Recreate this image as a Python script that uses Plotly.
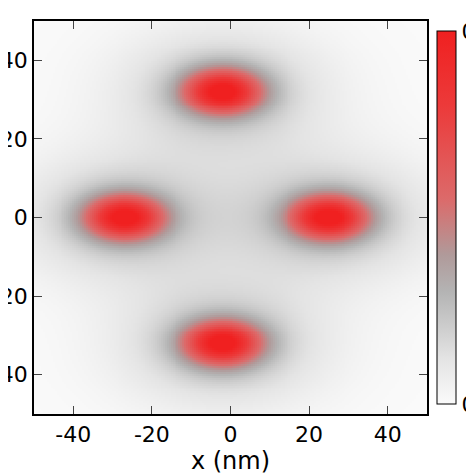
import numpy as np
import plotly.graph_objects as go

# blob parameters (nm)
centers_x = [-2, -27, 25, -2]
centers_y = [32, 0, 0, -32]
core_amp = [1.0, 1.0, 1.0, 1.0]
halo_amp = [0.30, 0.30, 0.30, 0.30]
core_sigma = (7.0, 4.0)
halo_sigma = (18.0, 11.0)
x_ticks = [-40, -20, 0, 20, 40]
x_labels = ['-40', '-20', '0', '20', '40']
y_ticks = [-40, -20, 0, 20, 40]
y_labels = ['-40', '-20', '0', '20', '40']

xs = np.arange(-50, 50.5, 0.5)
ys = np.arange(-50, 50.5, 0.5)
X, Y = np.meshgrid(xs, ys)
Z = np.zeros_like(X)
for cx, cy, a, h in zip(centers_x, centers_y, core_amp, halo_amp):
    Z += a*np.exp(-((X-cx)**2/(2*core_sigma[0]**2) + (Y-cy)**2/(2*core_sigma[1]**2)))
    Z += h*np.exp(-((X-cx)**2/(2*halo_sigma[0]**2) + (Y-cy)**2/(2*halo_sigma[1]**2)))

cs = [[0, '#fafafa'], [0.12, '#e4e4e4'], [0.3, '#b4b4b4'], [0.4, '#b09a9a'],
      [0.55, '#dc6a6a'], [0.8, '#ec3a3a'], [1, '#f02020']]

fig = go.Figure(go.Heatmap(
    x=xs, y=ys, z=Z, zmin=0, zmax=1.2, colorscale=cs,
    colorbar=dict(x=1.0, xpad=10, xanchor='left', thickness=19, thicknessmode='pixels',
                  len=1, y=0.5, outlinewidth=1, outlinecolor='black',
                  tickvals=[0, 1.2], ticktext=['0', '0.8'], ticks='',
                  tickfont=dict(size=22, color='black', family='DejaVu Sans'))
))
ax = dict(showline=True, linecolor='black', linewidth=1.5, mirror='ticks', ticks='inside',
          ticklen=8, showgrid=False, zeroline=False, range=[-50, 50], automargin=False,
          tickfont=dict(size=22, color='black', family='DejaVu Sans'))
fig.update_xaxes(**ax, tickvals=x_ticks, ticktext=x_labels,
                 title=dict(text='x (nm)', font=dict(size=24, family='DejaVu Sans', color='black'), standoff=2))
fig.update_yaxes(**ax, tickvals=y_ticks, ticktext=y_labels)
fig.update_layout(width=474, height=474, margin=dict(l=26, r=55, t=13, b=68, autoexpand=False),
                  plot_bgcolor='white', paper_bgcolor='white')
fig.write_html("out.html")
